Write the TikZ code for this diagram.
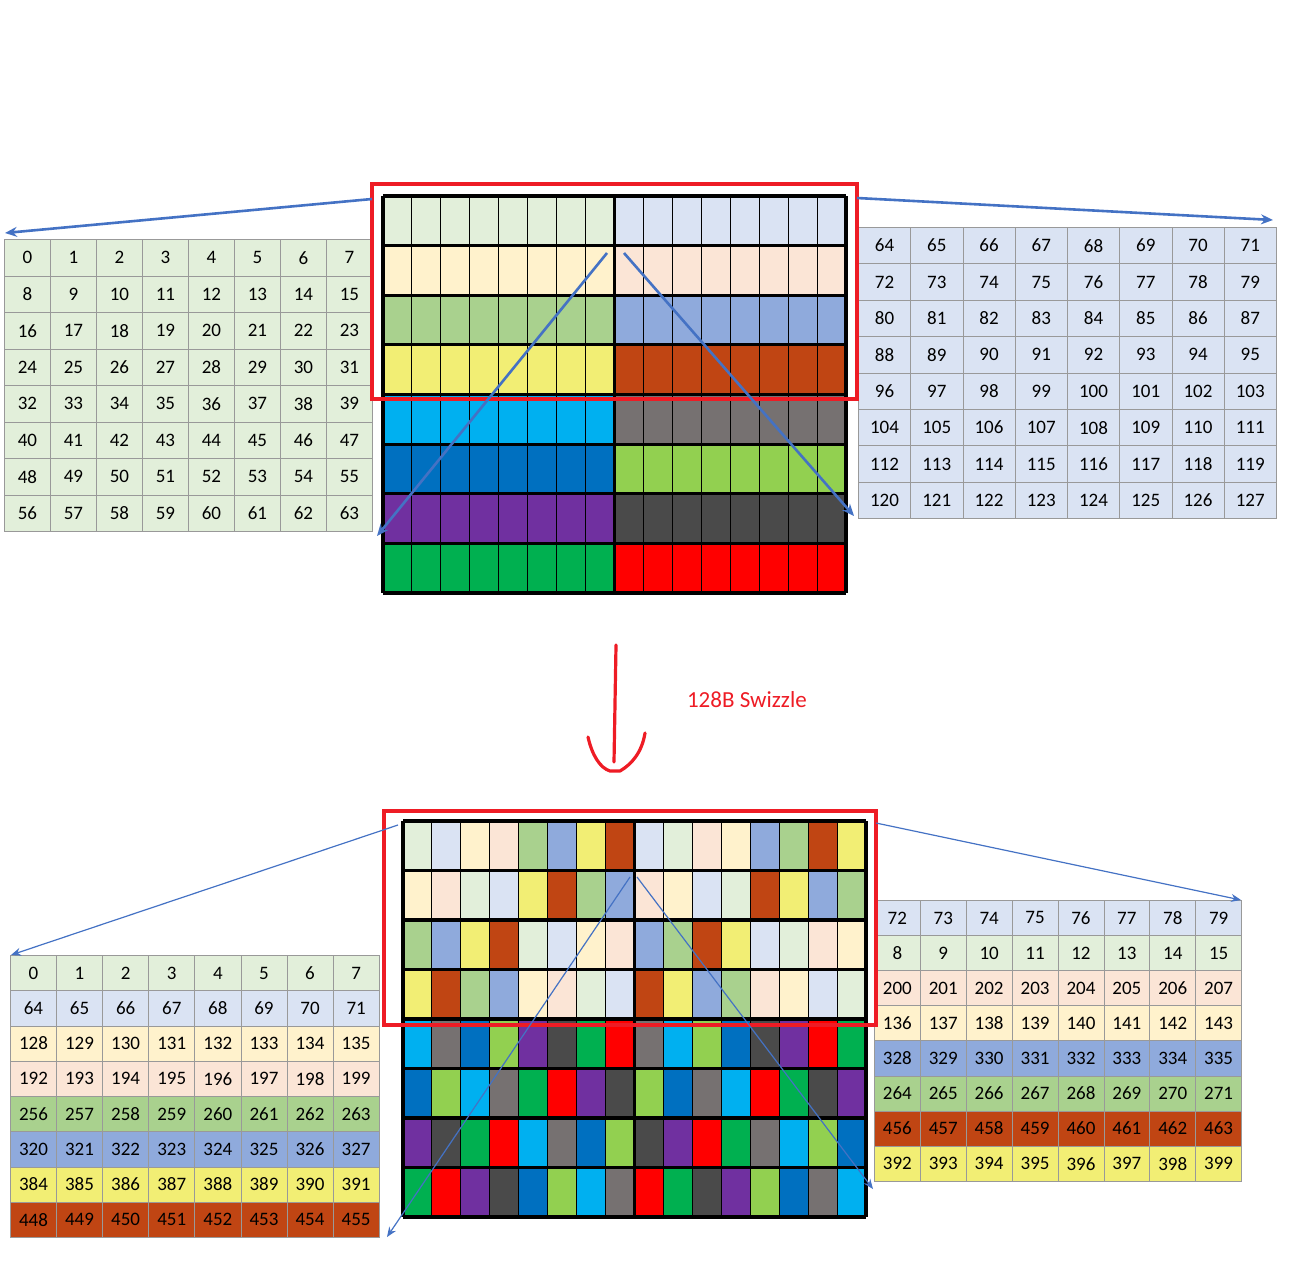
\documentclass[tikz,border=0pt]{standalone}
\usepackage{fontspec}
\setmainfont{Carlito}
\usetikzlibrary{arrows.meta}
\definecolor{c0}{HTML}{E2EFDA}\definecolor{c1}{HTML}{DAE3F3}
\definecolor{c2}{HTML}{FFF2CC}\definecolor{c3}{HTML}{FBE5D6}
\definecolor{c4}{HTML}{A9D18E}\definecolor{c5}{HTML}{8FAADC}
\definecolor{c6}{HTML}{F2EE74}\definecolor{c7}{HTML}{C04513}
\definecolor{c8}{HTML}{00B0F0}\definecolor{c9}{HTML}{767171}
\definecolor{c10}{HTML}{0070C0}\definecolor{c11}{HTML}{92D050}
\definecolor{c12}{HTML}{7030A0}\definecolor{c13}{HTML}{4A4A4A}
\definecolor{c14}{HTML}{00B050}\definecolor{c15}{HTML}{FF0000}
\definecolor{arrblue}{HTML}{4472C4}\definecolor{redbox}{HTML}{EE1C25}
\begin{document}
\begin{tikzpicture}[x=0.5pt,y=-0.5pt,
  thin grid/.style={black,line width=0.5pt},
  thick grid/.style={black,line width=1.6pt},
  tbl/.style={draw=gray!80,line width=0.4pt},
  num/.style={font=\fontsize{9.5}{11}\selectfont,inner sep=0pt},
  blue arrow/.style={arrblue,line width=1.3pt,-{Stealth[length=6pt,width=5pt]}},
  thin arrow/.style={arrblue,line width=0.6pt,-{Stealth[length=5pt,width=4pt]}},
  red frame/.style={redbox,line width=2pt}]
\useasboundingbox (0,0) rectangle (1309,1274);
% ---------- top grid ----------
\foreach \r in {0,...,7}{\foreach \h in {0,1}{
  \pgfmathtruncatemacro\b{2*\r+\h}
  \fill[c\b] ({383+\h*231.5},{196+\r*49.625}) rectangle ({383+(\h+1)*231.5},{196+(\r+1)*49.625});}}
\foreach \c in {1,...,15}{\draw[thin grid] ({383+\c*28.9375},196) -- ({383+\c*28.9375},593);}
\foreach \r in {0,...,8}{\draw[thick grid] (383,{196+\r*49.625}) -- (846,{196+\r*49.625});}
\draw[thick grid] (383,196) -- (383,593) (614.5,196) -- (614.5,593) (846,196) -- (846,593);
% ---------- bottom grid ----------
\foreach \r in {0,...,7}{\foreach \c in {0,...,15}{
  \pgfmathtruncatemacro\h{floor(\c/8)}
  \pgfmathtruncatemacro\p{mod(\c,8)}
  \pgfmathtruncatemacro\m{2*\r+\h}
  \pgfmathtruncatemacro\b{mod(mod(\p,2)+mod(\m,2),2)+2*mod(mod(floor(\p/2),2)+mod(floor(\m/2),2),2)+4*mod(mod(floor(\p/4),2)+mod(floor(\m/4),2),2)+8*floor(\r/4)}
  \fill[c\b] ({403+\c*28.9375},{821+\r*49.5}) rectangle ({403+(\c+1)*28.9375},{821+(\r+1)*49.5});}}
\foreach \c in {1,...,15}{\draw[thin grid] ({403+\c*28.9375},821) -- ({403+\c*28.9375},1217);}
\foreach \r in {0,...,8}{\draw[thick grid] (403,{821+\r*49.5}) -- (866,{821+\r*49.5});}
\draw[thick grid] (403,821) -- (403,1217) (634.5,821) -- (634.5,1217) (866,821) -- (866,1217);
% ---------- top-left table ----------
\foreach \r in {0,...,7}{\foreach \c in {0,...,7}{
  \pgfmathtruncatemacro\n{8*\r+\c}
  \node[tbl,fill=c0,minimum width=46pt*0.5,minimum height=36.5pt*0.5,anchor=north west,num] (tl\n) at ({4+\c*46},{239+\r*36.5}) {\n};}}
% ---------- top-right table ----------
\foreach \r in {0,...,7}{\foreach \c in {0,...,7}{
  \pgfmathtruncatemacro\n{64+8*\r+\c}
  \node[tbl,fill=c1,minimum width=52.25pt*0.5,minimum height=36.4pt*0.5,anchor=north west,num] (tr\n) at ({858+\c*52.25},{227+\r*36.4}) {\n};}}
% ---------- bottom-left table ----------
\foreach \r in {0,...,7}{\foreach \c in {0,...,7}{
  \pgfmathtruncatemacro\n{64*\r+\c}
  \node[tbl,fill=c\r,minimum width=46.1pt*0.5,minimum height=35.25pt*0.5,anchor=north west,num] (bl\n) at ({10+\c*46.1},{955+\r*35.25}) {\n};}}
% ---------- bottom-right table ----------
\foreach \r in {0,...,7}{\foreach \c in {0,...,7}{
  \pgfmathtruncatemacro\b{\r+1-2*mod(\r,2)}
  \pgfmathtruncatemacro\n{64*\b+8+\c}
  \node[tbl,fill=c\b,minimum width=45.9pt*0.5,minimum height=35.1pt*0.5,anchor=north west,num] (br\n) at ({874+\c*45.9},{900+\r*35.1}) {\n};}}
% ---------- red frames ----------
\draw[red frame] (372,184) rectangle (857,399);
\draw[red frame] (384,811) rectangle (876,1025);
% ---------- blue arrows ----------
\coordinate (a1s) at (372,199); \coordinate (a1e) at (5,233);
\coordinate (a2s) at (857,198); \coordinate (a2e) at (1273,220);
\coordinate (a3s) at (607,253); \coordinate (a3e) at (377,536);
\coordinate (a4s) at (624,253); \coordinate (a4e) at (854,516);
\draw[blue arrow] (a1s) -- (a1e);
\draw[blue arrow] (a2s) -- (a2e);
\draw[blue arrow] (a3s) -- (a3e);
\draw[blue arrow] (a4s) -- (a4e);
\coordinate (b1s) at (398,825); \coordinate (b1e) at (11,955);
\coordinate (b2s) at (876,823); \coordinate (b2e) at (1241,900);
\coordinate (b3s) at (630,877); \coordinate (b3e) at (387,1237);
\coordinate (b4s) at (637,877); \coordinate (b4e) at (873,1189);
\draw[thin arrow] (b1s) -- (b1e);
\draw[thin arrow] (b2s) -- (b2e);
\draw[thin arrow] (b3s) -- (b3e);
\draw[thin arrow] (b4s) -- (b4e);
% ---------- swizzle arrow ----------
\coordinate (s1) at (616,645); \coordinate (s2) at (614,762);
\draw[redbox,line width=1.6pt,line cap=round] (s1) -- (s2);
\draw[redbox,line width=1.6pt,line cap=round,line join=round]
  (588,737) .. controls (592,755) and (600,768) .. (610,771) -- (620,771)
  .. controls (632,764) and (642,752) .. (645,733);
\node[redbox,font=\fontsize{11.5}{13}\selectfont,anchor=west] (lbl) at (680,700) {128B Swizzle};
\end{tikzpicture}
\end{document}
